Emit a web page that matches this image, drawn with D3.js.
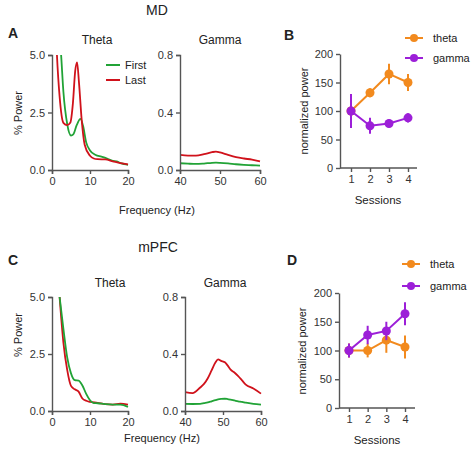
<!DOCTYPE html>
<html>
<head>
<meta charset="utf-8">
<script src="https://cdn.jsdelivr.net/npm/d3@7"></script>
<style>
  body { margin: 0; background: #fff; }
  svg { font-family: "Liberation Sans", Arial, sans-serif; }
  .axis path, .axis line { stroke: #555; stroke-width: 1.4; }
  .axis text { fill: #333; font-size: 11px; font-family: "Liberation Sans", Arial, sans-serif; }
</style>
</head>
<body>
<svg id="fig" width="474" height="464"></svg>
<script>
// spectra (frequency in Hz, % power)
const mdThetaFirstF = [1.5, 2.4, 3, 4, 5, 5.6, 6.5, 7.5, 8.2, 9, 10, 11.5, 13, 14.5, 16, 17, 18, 19, 20];
const mdThetaFirstV = [7, 5.0, 3.4, 2.0, 1.5, 1.55, 1.95, 2.22, 1.9, 1.2, 0.85, 0.65, 0.58, 0.5, 0.4, 0.38, 0.3, 0.26, 0.22];
const mdThetaLastF = [0.8, 1.3, 2, 3, 4, 4.8, 5.5, 6.1, 6.6, 7.1, 7.8, 8.6, 10, 11, 12, 14, 16, 18, 20];
const mdThetaLastV = [7, 5.0, 3.2, 2.05, 1.95, 2.05, 2.9, 4.3, 4.68, 3.8, 2.2, 1.1, 0.62, 0.5, 0.47, 0.46, 0.38, 0.3, 0.24];
const mdGammaF = [40, 42, 44, 46, 48, 49, 50, 52, 54, 56, 58, 60];
const mdGammaFirstV = [0.047, 0.044, 0.042, 0.045, 0.05, 0.051, 0.05, 0.046, 0.04, 0.036, 0.033, 0.03];
const mdGammaLastV = [0.105, 0.1, 0.1, 0.11, 0.124, 0.128, 0.122, 0.105, 0.09, 0.08, 0.072, 0.06];

const pfcThetaFirstF = [2, 3, 4, 5, 6, 7, 8, 9, 10, 11, 12, 14, 16, 18, 20];
const pfcThetaFirstV = [5.0, 3.6, 2.35, 1.65, 1.35, 1.33, 1.12, 0.75, 0.47, 0.35, 0.34, 0.3, 0.28, 0.28, 0.18];
const pfcThetaLastF = [2, 3, 4, 5, 6, 7, 8, 9, 10, 12, 14, 16, 18, 20];
const pfcThetaLastV = [5.0, 3.0, 1.8, 1.1, 0.95, 0.85, 0.55, 0.45, 0.4, 0.36, 0.3, 0.28, 0.32, 0.28];
const pfcGammaF = [40, 42, 44, 45, 46, 47, 48, 48.7, 49.5, 50.5, 51.2, 52, 53, 54, 55, 56, 58, 60];
const pfcGammaFirstV = [0.05, 0.049, 0.05, 0.055, 0.06, 0.068, 0.076, 0.082, 0.085, 0.086, 0.084, 0.08, 0.074, 0.068, 0.064, 0.058, 0.05, 0.045];
const pfcGammaLastV = [0.133, 0.125, 0.165, 0.19, 0.23, 0.285, 0.34, 0.362, 0.352, 0.342, 0.32, 0.29, 0.27, 0.245, 0.215, 0.185, 0.158, 0.122];

// normalized power per session
const sessions = [1, 2, 3, 4];
const mdTheta = [100, 132, 165, 150];
const mdThetaErr = [0, 8, 18, 15];
const mdGamma = [100, 74, 78, 88];
const mdGammaErr = [30, 14, 7, 8];
const pfcTheta = [100, 100, 118, 106];
const pfcThetaErr = [12, 12, 22, 20];
const pfcGamma = [100, 127, 134, 164];
const pfcGammaErr = [12, 16, 16, 20];

const GREEN = '#21a336', RED = '#d0121b', ORANGE = '#f28a1e', PURPLE = '#9c1fd8';
const svg = d3.select('#fig');

function text(x, y, s, size, opts = {}) {
  return svg.append('text').attr('x', x).attr('y', y).text(s)
    .attr('font-size', size).attr('fill', opts.fill || '#222')
    .attr('font-weight', opts.bold ? 'bold' : null)
    .attr('text-anchor', opts.anchor || 'middle');
}

function yLabel(x, y, s) {
  svg.append('text').attr('transform', `translate(${x},${y}) rotate(-90)`)
    .attr('text-anchor', 'middle').attr('font-size', 11).attr('fill', '#222').text(s);
}

let clipId = 0;
function spectrum(x0, x1, y0, y1, xDom, xTicks, yDom, yTicks, series) {
  const xs = d3.scaleLinear().domain(xDom).range([x0, x1]);
  const ys = d3.scaleLinear().domain(yDom).range([y1, y0]);
  const id = 'clip' + (clipId++);
  svg.append('clipPath').attr('id', id).append('rect')
    .attr('x', x0).attr('y', y0).attr('width', x1 - x0 + 2).attr('height', y1 - y0);
  const g = svg.append('g').attr('clip-path', `url(#${id})`);
  series.forEach(s => {
    const pts = s.f.map((f, i) => [f, s.v[i]]);
    g.append('path').datum(pts)
      .attr('d', d3.line().x(d => xs(d[0])).y(d => ys(d[1])).curve(d3.curveMonotoneX))
      .attr('fill', 'none').attr('stroke', s.color).attr('stroke-width', 1.8);
  });
  svg.append('g').attr('class', 'axis').attr('transform', `translate(0,${y1})`)
    .call(d3.axisBottom(xs).tickValues(xTicks).tickSize(4).tickFormat(d3.format('d')));
  svg.append('g').attr('class', 'axis').attr('transform', `translate(${x0},0)`)
    .call(d3.axisLeft(ys).tickValues(yTicks).tickSize(4).tickFormat(d3.format('.1f')));
}

function sessionPlot(x0, x1, y0, y1, xFirst, xLast, data) {
  const xs = d3.scaleLinear().domain([1, 4]).range([xFirst, xLast]);
  const ys = d3.scaleLinear().domain([0, 200]).range([y1, y0]);
  svg.append('g').attr('class', 'axis').attr('transform', `translate(0,${y1})`)
    .call(d3.axisBottom(xs).tickValues(sessions).tickSize(4).tickFormat(d3.format('d')))
    .select('.domain').attr('d', `M${x0},0H${x1}`);
  svg.append('g').attr('class', 'axis').attr('transform', `translate(${x0},0)`)
    .call(d3.axisLeft(ys).tickValues([0, 50, 100, 150, 200]).tickSize(4).tickSizeOuter(0));
  data.forEach(s => {
    const g = svg.append('g');
    g.selectAll('line.err').data(sessions).join('line')
      .attr('x1', d => xs(d)).attr('x2', d => xs(d))
      .attr('y1', (d, i) => ys(s.v[i] - s.e[i])).attr('y2', (d, i) => ys(s.v[i] + s.e[i]))
      .attr('stroke', s.color).attr('stroke-width', 2);
    g.append('path').datum(sessions)
      .attr('d', d3.line().x(d => xs(d)).y((d, i) => ys(s.v[i])))
      .attr('fill', 'none').attr('stroke', s.color).attr('stroke-width', 2);
    g.selectAll('circle').data(sessions).join('circle')
      .attr('cx', d => xs(d)).attr('cy', (d, i) => ys(s.v[i])).attr('r', 4.5)
      .attr('fill', s.color);
  });
}

function legendItem(x, y, color, label, len, gap, dot) {
  svg.append('line').attr('x1', x).attr('x2', x + len).attr('y1', y).attr('y2', y)
    .attr('stroke', color).attr('stroke-width', 2);
  if (dot) svg.append('circle').attr('cx', x + len / 2).attr('cy', y).attr('r', 4).attr('fill', color);
  text(x + gap, y + 4, label, 11, { anchor: 'start' });
}

// ---- MD (top row)
text(157, 15, 'MD', 14);
text(8, 38, 'A', 14, { bold: true, anchor: 'start' });
text(97, 44, 'Theta', 12);
text(220, 44, 'Gamma', 12);
spectrum(52, 128, 55, 170, [0, 20], [0, 10, 20], [0, 5], [0, 2.5, 5], [
  { f: mdThetaFirstF, v: mdThetaFirstV, color: GREEN },
  { f: mdThetaLastF, v: mdThetaLastV, color: RED }
]);
spectrum(180, 260, 55, 170, [40, 60], [40, 50, 60], [0, 0.8], [0, 0.4, 0.8], [
  { f: mdGammaF, v: mdGammaFirstV, color: GREEN },
  { f: mdGammaF, v: mdGammaLastV, color: RED }
]);
legendItem(106, 65, GREEN, 'First', 14, 19);
legendItem(106, 80, RED, 'Last', 14, 19);
yLabel(22, 113, '% Power');
text(157, 214, 'Frequency (Hz)', 11);

text(284, 40, 'B', 14, { bold: true, anchor: 'start' });
sessionPlot(340, 417, 54, 168, 351, 408, [
  { v: mdTheta, e: mdThetaErr, color: ORANGE },
  { v: mdGamma, e: mdGammaErr, color: PURPLE }
]);
legendItem(405, 38, ORANGE, 'theta', 18, 28, true);
legendItem(405, 58, PURPLE, 'gamma', 18, 28, true);
yLabel(308, 111, 'normalized power');
text(378, 204, 'Sessions', 11.5);

// ---- mPFC (bottom row)
text(158, 252, 'mPFC', 14);
text(8, 265, 'C', 14, { bold: true, anchor: 'start' });
text(110, 287, 'Theta', 12);
text(225, 287, 'Gamma', 12);
spectrum(52, 128, 297, 411, [0, 20], [0, 10, 20], [0, 5], [0, 2.5, 5], [
  { f: pfcThetaLastF, v: pfcThetaLastV, color: RED },
  { f: pfcThetaFirstF, v: pfcThetaFirstV, color: GREEN }
]);
spectrum(185, 261, 297, 411, [40, 60], [40, 50, 60], [0, 0.8], [0, 0.4, 0.8], [
  { f: pfcGammaF, v: pfcGammaFirstV, color: GREEN },
  { f: pfcGammaF, v: pfcGammaLastV, color: RED }
]);
yLabel(22, 335, '% Power');
text(162, 442, 'Frequency (Hz)', 11);

text(287, 265, 'D', 14, { bold: true, anchor: 'start' });
sessionPlot(339, 415, 293, 408, 349, 405, [
  { v: pfcTheta, e: pfcThetaErr, color: ORANGE },
  { v: pfcGamma, e: pfcGammaErr, color: PURPLE }
]);
legendItem(402, 264, ORANGE, 'theta', 18, 28, true);
legendItem(402, 286, PURPLE, 'gamma', 18, 28, true);
yLabel(306, 351, 'normalized power');
text(377, 444, 'Sessions', 11.5);
</script>
</body>
</html>
